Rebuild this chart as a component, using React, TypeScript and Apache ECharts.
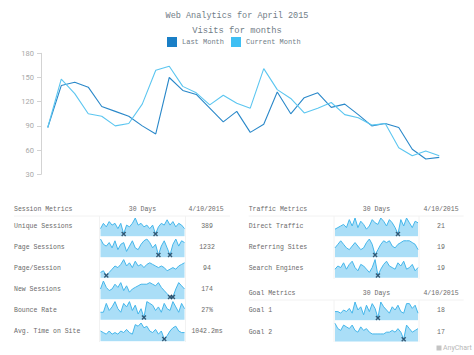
import React, { useEffect, useRef } from 'react';
import * as echarts from 'echarts';

const days = ['1','2','3','4','5','6','7','8','9','10','11','12','13','14','15','16','17','18','19','20','21','22','23','24','25','26','27','28','29','30'];
const lastMonth = [88,140,144,138,114,108,102,90,80,150,134,129,112,95,108,82,92,132,105,125,131,113,117,104,90,93,88,61,49,51];
const currentMonth = [88,148,130,105,102,90,93,117,159,164,139,131,116,128,118,112,161,135,124,106,112,119,104,100,91,93,63,53,59,53];
const yTicks = [30, 180, 30];

const uniqueSessions = [3,6,4,7,5,6,3,6,0,5,4,6,9,5,6,4,5,3,5,0,4,6,5,8,5,7,4,6,5,3];
const pageSessions = [9,6,5,7,4,8,3,6,7,2,5,8,4,3,6,8,9,7,4,6,0,5,8,4,0,6,9,5,8,7];
const pagePerSession = [2,3,0,2,4,6,5,7,10,6,8,5,9,6,7,5,7,8,7,6,5,6,5,3,4,5,4,6,7,8];
const newSessions = [5,10,6,4,5,8,6,9,4,7,3,5,6,7,8,8,8,9,8,7,9,6,4,2,0,0,5,9,7,5];
const bounceRate = [3,3,8,4,6,9,5,3,8,6,9,4,7,2,5,0,9,8,7,4,6,3,8,5,4,9,6,3,8,5];
const avgTime = [5,4,3,5,3,4,3,5,4,6,4,3,9,8,10,7,8,5,4,6,3,5,0,2,5,7,8,5,4,4];
const directTraffic = [3,4,5,6,4,9,5,10,4,8,6,3,5,9,7,6,10,8,5,9,7,4,0,9,5,10,7,4,8,7];
const referringSites = [4,6,8,6,4,3,5,7,5,3,4,7,9,6,0,3,6,8,7,8,5,4,6,7,8,8,8,7,6,3];
const searchEngines = [4,6,5,8,4,7,9,5,3,7,6,4,2,5,10,0,4,7,9,6,5,4,8,6,9,4,5,7,3,5];
const goal1 = [4,4,3,5,4,6,3,10,5,7,2,8,4,9,6,0,10,7,5,3,7,5,8,4,3,9,9,6,8,3];
const goal2 = [9,6,5,8,7,6,8,5,4,7,5,6,4,3,3,3,3,3,4,4,5,4,6,4,0,8,6,4,5,6];

const sessionLabels = ['Unique Sessions','Page Sessions','Page/Session','New Sessions','Bounce Rate','Avg. Time on Site'];
const sessionValues = ['389','1232','94','174','27%','1042.2ms'];
const sessionSparks = [uniqueSessions, pageSessions, pagePerSession, newSessions, bounceRate, avgTime];
const trafficLabels = ['Direct Traffic','Referring Sites','Search Engines'];
const trafficValues = ['21','19','19'];
const trafficSparks = [directTraffic, referringSites, searchEngines];
const goalLabels = ['Goal 1','Goal 2'];
const goalValues = ['18','17'];
const goalSparks = [goal1, goal2];

const MONO = '"Liberation Mono", "DejaVu Sans Mono", monospace';
const TXT = '#6a6a6a';
const XMARK = 'path://M2,0L5,3L8,0L10,2L7,5L10,8L8,10L5,7L2,10L0,8L3,5L0,2Z';

export default function App() {
  const ref = useRef<HTMLDivElement>(null);
  useEffect(() => {
    if (!ref.current) return;
    const chart = echarts.init(ref.current, undefined, { renderer: 'svg' });

    const grids: any[] = [{ left: 41, top: 53.3, width: 405, height: 121 }];
    const xAxes: any[] = [{ type: 'category', data: days, gridIndex: 0, boundaryGap: true, show: false }];
    const yAxes: any[] = [{
      type: 'value', gridIndex: 0, min: yTicks[0], max: yTicks[1], interval: yTicks[2],
      axisLine: { show: true, lineStyle: { color: '#d3d3d3', width: 1 } },
      axisTick: { show: true, length: 4, lineStyle: { color: '#d3d3d3' } },
      splitLine: { show: false },
      axisLabel: { color: '#a8a8a8', fontSize: 7.5, fontFamily: 'Roboto, sans-serif', margin: 7 },
    }];
    const series: any[] = [
      { name: 'Last Month', type: 'line', data: lastMonth, symbol: 'none', xAxisIndex: 0, yAxisIndex: 0,
        itemStyle: { color: '#1a7fc6' }, lineStyle: { color: '#2a88c9', width: 1.1 } },
      { name: 'Current Month', type: 'line', data: currentMonth, symbol: 'none', xAxisIndex: 0, yAxisIndex: 0,
        itemStyle: { color: '#3fbff3' }, lineStyle: { color: '#5cc6f0', width: 1.1 } },
    ];
    const graphic: any[] = [];
    const text = (t: string, x: number, y: number, size: number, align: string, color = TXT, family = MONO) => {
      graphic.push({ type: 'text', x, y, silent: true, style: { text: t, fill: color, fontSize: size, fontFamily: family, textAlign: align, textVerticalAlign: 'middle' } });
    };
    const line = (x1: number, y1: number, x2: number, y2: number) => {
      graphic.push({ type: 'line', silent: true, shape: { x1, y1, x2, y2 }, style: { stroke: '#f2f2f2', lineWidth: 1 } });
    };

    const addSpark = (data: number[], left: number, width: number, yc: number) => {
      const gi = grids.length;
      grids.push({ left, top: yc - 9, width, height: 18.5 });
      xAxes.push({ type: 'category', gridIndex: gi, data: days, boundaryGap: false, show: false });
      yAxes.push({ type: 'value', gridIndex: gi, show: false,
        min: (v: any) => v.min - (v.max - v.min) * 0.14, max: (v: any) => v.max + (v.max - v.min) * 0.02 });
      series.push({ type: 'line', xAxisIndex: gi, yAxisIndex: gi, data, symbol: 'none',
        lineStyle: { color: '#45b6ea', width: 1 }, areaStyle: { color: '#aadef7', opacity: 1, origin: 'start' } });
      const mn = Math.min(...data);
      const marks: any[] = [];
      data.forEach((v, i) => { if (v === mn) marks.push([i, v]); });
      series.push({ type: 'scatter', xAxisIndex: gi, yAxisIndex: gi, data: marks, symbol: XMARK, symbolSize: 5,
        itemStyle: { color: '#1d3c58' }, z: 5 });
    };

    text('Web Analytics for April 2015', 237, 16, 8.5, 'center', '#717d87');
    text('Visits for months', 237, 31, 8.8, 'center', '#717d87');

    const leftRows = [226.7, 247.7, 268.3, 289.7, 310.3, 331.7];
    text('Session Metrics', 14, 209.7, 6.5, 'left');
    text('30 Days', 142.5, 209.7, 6.5, 'center');
    text('4/10/2015', 206, 209.7, 6.5, 'center');
    line(14, 216, 230, 216);
    line(99.5, 216, 99.5, 342);
    line(185.5, 216, 185.5, 342);
    leftRows.forEach((y, i) => {
      text(sessionLabels[i], 14, y, 6.5, 'left');
      text(sessionValues[i], 207, y, 6.5, 'center');
      addSpark(sessionSparks[i], 100.5, 84, y);
    });

    const rightRows = [226.7, 247.7, 268.3];
    text('Traffic Metrics', 248.7, 209.7, 6.5, 'left');
    text('30 Days', 376.5, 209.7, 6.5, 'center');
    text('4/10/2015', 441, 209.7, 6.5, 'center');
    line(248.7, 216, 463.7, 216);
    line(334, 216, 334, 279);
    line(419, 216, 419, 279);
    rightRows.forEach((y, i) => {
      text(trafficLabels[i], 248.7, y, 6.5, 'left');
      text(trafficValues[i], 441, y, 6.5, 'center');
      addSpark(trafficSparks[i], 335, 83, y);
    });
    const goalRows = [310.7, 332];
    text('Goal Metrics', 248.7, 293.7, 6.5, 'left');
    text('30 Days', 376.5, 293.7, 6.5, 'center');
    text('4/10/2015', 441, 293.7, 6.5, 'center');
    line(248.7, 300, 463.7, 300);
    line(334, 300, 334, 342);
    line(419, 300, 419, 342);
    goalRows.forEach((y, i) => {
      text(goalLabels[i], 248.7, y, 6.5, 'left');
      text(goalValues[i], 441, y, 6.5, 'center');
      addSpark(goalSparks[i], 335, 83, y);
    });

    graphic.push({ type: 'rect', silent: true, shape: { x: 436.5, y: 345.5, width: 5, height: 5 }, style: { fill: '#c4c4c4' } });
    text('AnyChart', 443, 348.3, 7, 'left', '#b8b8b8', 'Roboto, sans-serif');

    chart.setOption({
      animation: false,
      backgroundColor: '#ffffff',
      legend: {
        data: ['Last Month', 'Current Month'],
        left: 162, top: 32, itemWidth: 10, itemHeight: 10, itemGap: 7, icon: 'rect',
        textStyle: { color: '#717d87', fontSize: 7, fontFamily: MONO },
        selectedMode: false,
      },
      grid: grids,
      xAxis: xAxes,
      yAxis: yAxes,
      series,
      graphic,
    });
    return () => chart.dispose();
  }, []);
  return <div ref={ref} style={{ position: 'fixed', left: 0, top: 0, width: 474, height: 355 }} />;
}
